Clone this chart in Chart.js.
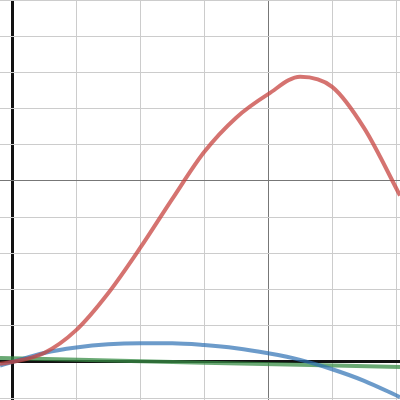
<!DOCTYPE html>
<html>
<head>
<script src="https://cdn.jsdelivr.net/npm/chart.js@4"></script>
<style>body{margin:0;background:#fff}</style>
</head>
<body>
<canvas id="c" width="400" height="400"></canvas>
<script>
// values (grid units)
const xs = [-0.19, 0, 0.5, 1, 1.5, 2, 2.5, 3, 3.5, 4, 4.5, 5, 5.5, 6.06];
const redY = [-0.05, 0, 0.25, 0.88, 1.9, 3.15, 4.5, 5.8, 6.75, 7.4, 7.88, 7.6, 6.46, 4.6];
const blueY = [-0.1, 0, 0.25, 0.4, 0.49, 0.52, 0.52, 0.47, 0.38, 0.24, 0.06, -0.2, -0.52, -0.97];
const greenX = [-0.19, 3, 6.06];
const greenY = [0.11, -0.02, -0.14];
const xTicks = [0, 1, 2, 3, 4, 5, 6];
const yTicks = [-1, 0, 1, 2, 3, 4, 5, 6, 7, 8, 9, 10];

const pts = (xv, yv) => xv.map((x, i) => ({ x: x, y: yv[i] }));

function gridColor(major) {
    return ctx => {
        const v = ctx.tick ? ctx.tick.value : null;
        if (v === 0) return '#111';
        if (v === major) return '#777';
        return '#ccc';
    };
}
function gridWidth(ctx) {
    return ctx.tick && ctx.tick.value === 0 ? 3 : 1;
}

new Chart('c', {
    type: 'scatter',
    data: {
        datasets: [
            { data: pts(xs, redY), borderColor: 'rgba(199,68,64,0.75)' },
            { data: pts(xs, blueY), borderColor: 'rgba(45,112,179,0.7)' },
            { data: pts(greenX, greenY), borderColor: 'rgba(56,140,70,0.75)' }
        ].map(d => Object.assign(d, { showLine: true, pointRadius: 0, borderWidth: 4, cubicInterpolationMode: 'monotone', fill: false }))
    },
    options: {
        responsive: false,
        animation: false,
        layout: { padding: 0 },
        plugins: { legend: { display: false }, tooltip: { enabled: false } },
        scales: {
            x: {
                min: -0.19, max: 6.06,
                afterBuildTicks: s => { s.ticks = xTicks.map(v => ({ value: v })); },
                ticks: { display: false },
                border: { display: false },
                grid: { drawTicks: false, color: gridColor(4), lineWidth: gridWidth }
            },
            y: {
                min: -1.05, max: 10,
                afterBuildTicks: s => { s.ticks = yTicks.map(v => ({ value: v })); },
                ticks: { display: false },
                border: { display: false },
                grid: { drawTicks: false, color: gridColor(5), lineWidth: gridWidth }
            }
        }
    }
});
</script>
</body>
</html>
